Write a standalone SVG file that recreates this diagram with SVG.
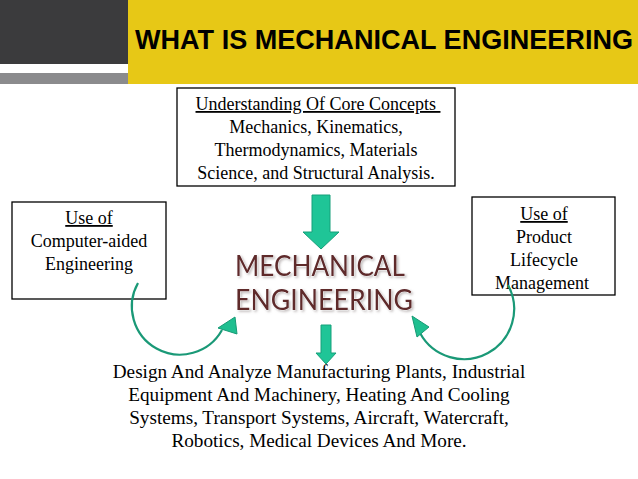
<svg xmlns="http://www.w3.org/2000/svg" width="638" height="479" viewBox="0 0 638 479">
<defs>
<style>
.box{fill:#fff;stroke:#000;stroke-width:1.3}
.t{font-family:"Liberation Serif","Times New Roman",serif;font-size:18px;fill:#000;text-anchor:middle}
.b{font-size:19.2px}
.u{text-decoration:underline}
.big{font-family:Lato,"Open Sans",sans-serif;font-size:28px;fill:#5e2a2c;stroke:#fff;stroke-width:0.6;paint-order:stroke}
.arc{fill:none;stroke:#1a9977;stroke-width:2.2}
.head{fill:#1fbf90;stroke:#179a75;stroke-width:1}
.blk{fill:#1fc597;stroke:#16a07a;stroke-width:1}
</style>
<filter id="sh" x="-10%" y="-30%" width="120%" height="160%">
<feDropShadow dx="1.5" dy="1.5" stdDeviation="1.2" flood-color="#9a9090" flood-opacity="0.6"/>
</filter>
</defs>
<g id="header">
<rect x="0" y="0" width="638" height="84" fill="#e7c816"/>
<rect x="0" y="0" width="128" height="64" fill="#3b3b3d"/>
<rect x="0" y="64" width="128" height="9" fill="#ffffff"/>
<rect x="0" y="73" width="128" height="11" fill="#8b8b8d"/>
<text x="135" y="49" font-family="Liberation Sans,Arial,sans-serif" font-weight="bold" font-size="27" textLength="498" lengthAdjust="spacingAndGlyphs" fill="#000">WHAT IS MECHANICAL ENGINEERING</text>
</g>
<g id="core">
<rect class="box" x="177" y="88" width="278" height="98"/>
<text class="t u" x="318" y="110" xml:space="preserve" font-size="18.3">Understanding Of Core Concepts </text>
<text class="t" x="316" y="133" font-size="18.3">Mechanics, Kinematics,</text>
<text class="t" x="316" y="156" font-size="18.3">Thermodynamics, Materials</text>
<text class="t" x="316" y="179" font-size="18.3">Science, and Structural Analysis.</text>
</g>
<g id="cae">
<rect class="box" x="12" y="202" width="154" height="97"/>
<text class="t u" x="89" y="224">Use of</text>
<text class="t" x="89" y="247">Computer-aided</text>
<text class="t" x="89" y="270">Engineering</text>
</g>
<g id="plm">
<rect class="box" x="472" y="197" width="143" height="98"/>
<text class="t u" x="544" y="220">Use of</text>
<text class="t" x="544" y="243">Product</text>
<text class="t" x="544" y="266">Lifecycle</text>
<text class="t" x="542" y="289">Management</text>
</g>
<g id="me" filter="url(#sh)">
<text class="big" x="235" y="276" textLength="170" lengthAdjust="spacingAndGlyphs">MECHANICAL</text>
<text class="big" x="235" y="310" textLength="178" lengthAdjust="spacingAndGlyphs">ENGINEERING</text>
</g>
<g id="applications">
<text class="t b" x="319" y="378">Design And Analyze Manufacturing Plants, Industrial</text>
<text class="t b" x="319" y="401">Equipment And Machinery, Heating And Cooling</text>
<text class="t b" x="319" y="424">Systems, Transport Systems, Aircraft, Watercraft,</text>
<text class="t b" x="319" y="447">Robotics, Medical Devices And More.</text>
</g>
<g id="connectors">
<polygon class="blk" points="312,195 330,195 330,232 339,232 321,249 303,232 312,232"/>
<polygon class="blk" points="321,325 331,325 331,353 336,353 326,364 316,353 321,353"/>
<path class="arc" d="M138,283 A48,48 0 0 0 222,330"/>
<polygon class="head" points="218,328 235,317 237,334"/>
<path class="arc" d="M508,285 A49,49 0 0 1 420,333"/>
<polygon class="head" points="412,316 429,327 417,337"/>
</g>
</svg>
